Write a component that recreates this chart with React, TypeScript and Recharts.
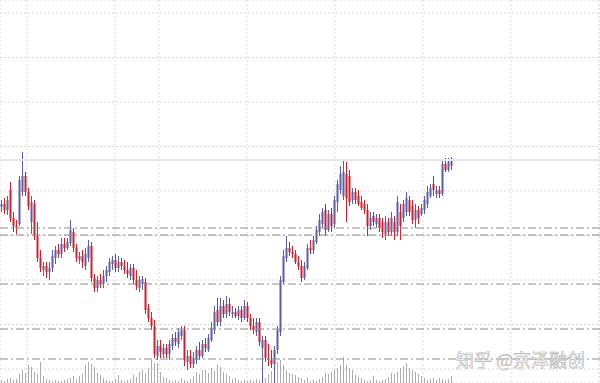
import React from 'react';
import { ComposedChart, Bar, XAxis, YAxis, CartesianGrid, ReferenceLine } from 'recharts';

// OHLC prices (arbitrary price units)
const opens = [193,196,190,210,182,174,176,208,224,208,178,196,164,142,130,134,128,132,142,150,146,156,152,157,168,152,140,144,134,142,154,122,112,120,116,124,128,136,140,132,138,134,130,124,132,120,112,116,118,92,82,74,44,54,46,52,46,54,62,56,64,70,38,44,36,40,50,44,56,50,60,70,90,78,94,86,96,86,88,84,90,82,94,82,74,68,78,52,60,42,40,36,50,68,118,142,152,148,146,138,134,122,132,152,150,158,168,176,190,170,186,176,198,210,204,226,224,200,208,204,198,196,190,174,184,176,182,178,166,178,168,178,168,188,182,188,200,194,180,190,186,190,196,204,216,206,210,206,236,230,234];
const highs = [200,202,204,218,188,180,224,248,228,212,204,200,178,150,138,138,138,150,154,156,162,162,162,180,172,156,148,150,152,160,158,126,124,126,130,134,142,144,146,144,142,140,138,136,136,130,124,124,122,96,88,80,60,60,56,56,60,66,68,72,74,74,50,50,48,54,58,60,62,66,78,94,102,102,100,104,102,94,92,94,94,100,98,86,82,82,82,64,64,56,50,54,74,124,150,164,158,154,150,144,140,138,156,160,164,174,186,192,196,190,192,204,220,234,240,238,230,212,212,210,204,200,196,188,188,186,186,182,184,182,188,184,204,196,200,208,204,200,196,194,196,204,214,216,224,214,214,240,242,242,243];
const lows = [188,186,185,178,168,166,174,204,204,190,166,160,138,128,124,122,120,128,136,142,142,148,150,154,148,138,136,132,130,138,118,108,108,112,112,118,124,130,128,128,130,126,122,120,116,110,108,110,86,78,70,42,40,42,42,42,40,50,54,52,60,34,30,32,32,36,40,42,48,48,58,66,74,74,82,82,84,82,82,80,78,80,78,70,66,64,54,8,38,34,32,8,46,64,116,138,144,142,136,130,118,120,130,146,146,156,164,172,164,168,168,172,188,206,200,178,194,196,196,194,190,186,164,170,174,172,168,162,160,164,164,160,164,160,178,184,184,176,172,176,184,186,192,202,204,202,202,204,228,228,230];
const closes = [196,190,200,182,174,172,220,224,208,194,198,164,142,132,134,128,132,144,150,146,156,152,158,170,152,142,144,138,146,154,122,112,120,116,124,130,138,140,132,138,134,130,126,132,120,114,120,121,90,82,74,46,54,48,52,46,56,62,58,68,70,40,44,36,42,50,44,56,52,62,72,88,78,94,86,96,88,88,84,90,82,94,82,74,70,78,58,60,42,40,36,50,70,120,144,152,148,146,138,134,122,134,152,150,160,170,180,188,170,186,174,200,216,226,228,202,198,208,200,196,192,190,174,182,178,182,172,168,178,168,182,168,198,174,196,202,188,180,190,182,192,200,208,212,210,210,206,236,230,238,240];
const volumes = [3,2,4,5,3,4,9,13,10,18,16,11,9,21,7,4,3,2,3,2,2,3,4,5,7,4,7,9,18,21,19,16,10,8,5,3,2,2,4,8,3,2,3,4,8,6,11,13,10,15,23,20,20,11,6,5,3,2,3,2,5,3,2,4,7,11,9,13,13,10,15,12,18,16,11,9,7,4,5,3,2,3,2,3,2,4,3,8,5,9,12,15,21,23,18,13,10,9,8,6,5,3,5,2,3,2,4,6,10,9,11,13,15,18,26,18,15,13,8,6,5,3,2,3,7,3,2,3,4,6,10,9,11,15,17,20,15,13,11,9,7,5,3,4,5,3,5,4,3,4,7];

// price levels of the horizontal grid and of the dash-dot support/resistance lines
const gridPrices = [387, 342.5, 298, 253.5, 209, 164.5, 120, 75.5, 31];
const gridIndexes = [8.5, 23.167, 37.833, 52.5, 67.167, 81.833, 96.5, 111.167, 125.833, 140.5, 155.167, 169.833, 184.5, 199.167];
const levelPrices = [172, 165, 116, 71, 41];
const priceLine = 240;

const BULL = '#5c5fa6';
const BEAR = '#d0202c';

const data = opens.map((o, i) => ({
  i,
  open: o,
  high: highs[i],
  low: lows[i],
  close: closes[i],
  range: [lows[i], highs[i]],
  vol: volumes[i],
}));

const Candle = (props: any) => {
  const { x, y, width, height, payload } = props;
  if (!payload) return null;
  const { open, high, low, close } = payload;
  const span = high - low;
  const k = span > 0 ? height / span : 0;
  const cx = Math.round(x + width / 2);
  const oy = y + (high - open) * k;
  const cy = y + (high - close) * k;
  const bull = close >= open;
  const col = bull ? BULL : BEAR;
  const top = Math.min(oy, cy);
  const h = Math.max(1, Math.abs(cy - oy));
  return (
    <g>
      <line x1={cx + 0.5} x2={cx + 0.5} y1={y} y2={y + height} stroke={col} strokeWidth={1} />
      <rect x={cx - 0.5} y={top} width={2} height={h} fill={col} />
    </g>
  );
};

export default function App() {
  return (
    <div style={{ position: 'absolute', left: 0, top: 0, width: 600, height: 383, background: '#fff', overflow: 'hidden' }}>
      <ComposedChart width={600} height={383} data={data} margin={{ top: 0, right: 0, bottom: 0, left: 0 }}>
        <XAxis xAxisId="p" dataKey="i" type="number" domain={[-0.5, 199.5]} ticks={gridIndexes} hide allowDataOverflow />
        <XAxis xAxisId="v" dataKey="i" type="number" domain={[-0.5, 199.5]} hide allowDataOverflow />
        <YAxis yAxisId="p" type="number" domain={[17, 400]} ticks={gridPrices} hide allowDataOverflow />
        <YAxis yAxisId="v" type="number" domain={[0, 383]} hide allowDataOverflow />
        <CartesianGrid xAxisId="p" yAxisId="p" stroke="#dadada" strokeDasharray="2 2" />
        <ReferenceLine xAxisId="p" yAxisId="p" y={priceLine} stroke="#e6e6e6" strokeWidth={2} />
        {levelPrices.map((p) => (
          <ReferenceLine key={p} xAxisId="p" yAxisId="p" y={p} stroke="#8c8c8c" strokeDasharray="8 3 2 3" />
        ))}
        <Bar xAxisId="v" yAxisId="v" dataKey="vol" fill="#acacac" barSize={1} isAnimationActive={false} />
        <Bar xAxisId="p" yAxisId="p" dataKey="range" barSize={3} shape={<Candle />} isAnimationActive={false} />
      </ComposedChart>
      <div
        style={{
          position: 'absolute',
          left: 456,
          top: 347,
          fontFamily: '"Noto Sans CJK SC", sans-serif',
          fontSize: 18,
          color: '#ffffff',
          WebkitTextStroke: '0.6px #b4b4b4',
          whiteSpace: 'nowrap',
          lineHeight: '24px',
        }}
      >
        知乎 @京泽融创
      </div>
    </div>
  );
}
